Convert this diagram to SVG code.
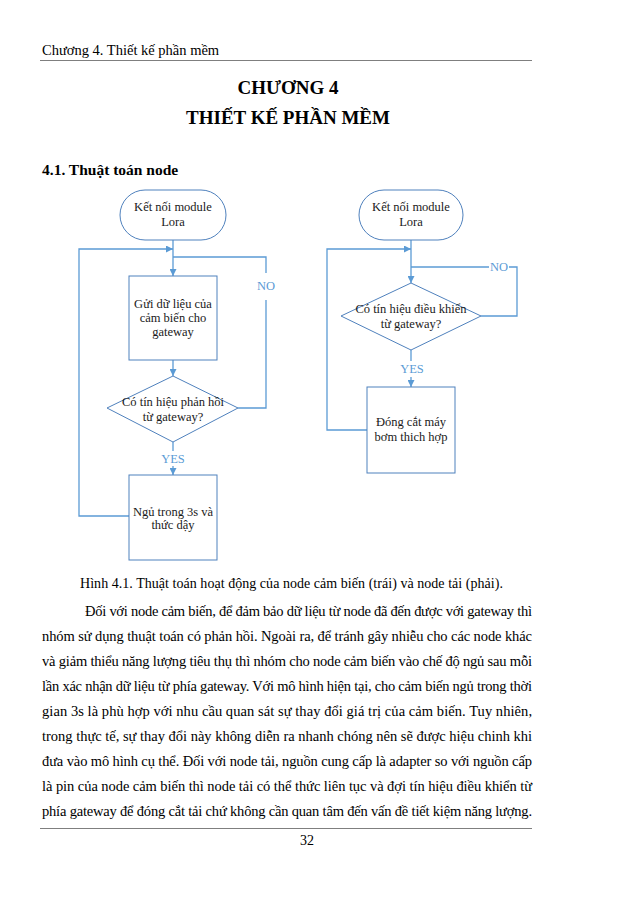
<svg xmlns="http://www.w3.org/2000/svg" width="638" height="902" viewBox="0 0 638 902">
<style>
.t{font-family:"Liberation Serif","Times New Roman",serif;fill:#000}
.n{font-family:"Liberation Serif","Times New Roman",serif;font-size:12.5px;fill:#1a1a1a;text-anchor:middle}
.lb{font-family:"Liberation Serif","Times New Roman",serif;font-size:12.5px;fill:#5B9BD5;text-anchor:middle}
.shape{fill:#fff;stroke:#4F81BD;stroke-width:1}
.c{fill:none;stroke:#5B9BD5;stroke-width:1.3}
.p{font-size:14.5px}
</style>
<defs>
<marker id="ah" viewBox="0 0 10 10" refX="10" refY="5" markerWidth="7" markerHeight="7" markerUnits="userSpaceOnUse" orient="auto">
<path d="M0,0 L10,5 L0,10 z" fill="#5B9BD5"/>
</marker>
</defs>
<rect width="638" height="902" fill="#fff"/>

<text class="t" x="42" y="55" font-size="14.5">Chương 4. Thiết kế phần mềm</text>
<line x1="40" y1="60.5" x2="532" y2="60.5" stroke="#7f7f7f" stroke-width="1"/>
<text class="t" x="288" y="94" font-size="19" font-weight="bold" text-anchor="middle">CHƯƠNG 4</text>
<text class="t" x="288" y="124" font-size="19" font-weight="bold" text-anchor="middle">THIẾT KẾ PHẦN MỀM</text>
<text class="t" x="42" y="175" font-size="15.5" font-weight="bold">4.1. Thuật toán node</text>

<g id="connectors">
<line class="c" x1="173" y1="240" x2="173" y2="276" marker-end="url(#ah)"/>
<polyline class="c" points="129,516 79,516 79,249 173,249" marker-end="url(#ah)"/>
<polyline class="c" points="173,257 266,257 266,273"/>
<polyline class="c" points="266,300 266,408 238,408"/>
<line class="c" x1="173" y1="360" x2="173" y2="376" marker-end="url(#ah)"/>
<line class="c" x1="173" y1="442" x2="173" y2="451"/>
<line class="c" x1="173" y1="466" x2="173" y2="475" marker-end="url(#ah)"/>

<line class="c" x1="411" y1="240" x2="411" y2="283" marker-end="url(#ah)"/>
<polyline class="c" points="367,430 327,430 327,249 411,249" marker-end="url(#ah)"/>
<polyline class="c" points="411,267 489,267"/>
<polyline class="c" points="509,267 517,267 517,316 481,316"/>
<line class="c" x1="411" y1="350" x2="411" y2="361"/>
<line class="c" x1="411" y1="377" x2="411" y2="387" marker-end="url(#ah)"/>
<text class="lb" x="266" y="290">NO</text>
<text class="lb" x="173" y="463">YES</text>
<text class="lb" x="499" y="271">NO</text>
<text class="lb" x="412" y="373">YES</text>
</g>

<g id="l_start">
<rect class="shape" x="120" y="190" width="106" height="50" rx="25"/>
<text class="n" x="173" y="211">Kết nối module</text>
<text class="n" x="173" y="226">Lora</text>
</g>
<g id="l_send">
<rect class="shape" x="129" y="276" width="88" height="84"/>
<text class="n" x="173" y="308">Gửi dữ liệu của</text>
<text class="n" x="173" y="322">cảm biến cho</text>
<text class="n" x="173" y="336">gateway</text>
</g>
<g id="l_check">
<polygon class="shape" points="173,376 238,408 173,442 107,408"/>
<text class="n" x="173" y="406">Có tín hiệu phản hồi</text>
<text class="n" x="173" y="421">từ gateway?</text>
</g>
<g id="l_sleep">
<rect class="shape" x="129" y="475" width="88" height="85"/>
<text class="n" x="173" y="516">Ngủ trong 3s và</text>
<text class="n" x="173" y="529">thức dậy</text>
</g>

<g id="r_start">
<rect class="shape" x="359" y="190" width="104" height="50" rx="25"/>
<text class="n" x="411" y="211">Kết nối module</text>
<text class="n" x="411" y="226">Lora</text>
</g>
<g id="r_check">
<polygon class="shape" points="411,283 481,316 411,350 341,316"/>
<text class="n" x="411" y="313">Có tín hiệu điều khiển</text>
<text class="n" x="411" y="328">từ gateway?</text>
</g>
<g id="r_pump">
<rect class="shape" x="367" y="387" width="88" height="86"/>
<text class="n" x="411" y="426">Đóng cắt máy</text>
<text class="n" x="411" y="441">bơm thich hợp</text>
</g>

<text class="t" x="80" y="588" font-size="14" textLength="423" lengthAdjust="spacing">Hình 4.1. Thuật toán hoạt động của node cảm biến (trái) và node tải (phải).</text>

<g class="t p">
<text x="85" y="616" textLength="447" lengthAdjust="spacing">Đối với node cảm biến, để đảm bảo dữ liệu từ node đã đến được với gateway thì</text>
<text x="42" y="641" textLength="490" lengthAdjust="spacing">nhóm sử dụng thuật toán có phản hồi. Ngoài ra, để tránh gây nhiễu cho các node khác</text>
<text x="42" y="666" textLength="490" lengthAdjust="spacing">và giảm thiểu năng lượng tiêu thụ thì nhóm cho node cảm biến vào chế độ ngủ sau mỗi</text>
<text x="42" y="691" textLength="490" lengthAdjust="spacing">lần xác nhận dữ liệu từ phía gateway. Với mô hình hiện tại, cho cảm biến ngủ trong thời</text>
<text x="42" y="716" textLength="490" lengthAdjust="spacing">gian 3s là phù hợp với nhu cầu quan sát sự thay đổi giá trị của cảm biến. Tuy nhiên,</text>
<text x="42" y="741" textLength="490" lengthAdjust="spacing">trong thực tế, sự thay đổi này không diễn ra nhanh chóng nên sẽ được hiệu chinh khi</text>
<text x="42" y="766" textLength="490" lengthAdjust="spacing">đưa vào mô hình cụ thể. Đối với node tải, nguồn cung cấp là adapter so với nguồn cấp</text>
<text x="42" y="791" textLength="490" lengthAdjust="spacing">là pin của node cảm biến thì node tải có thể thức liên tục và đợi tín hiệu điều khiển từ</text>
<text x="42" y="816" textLength="490" lengthAdjust="spacing">phía gateway để đóng cắt tải chứ không cần quan tâm đến vấn đề tiết kiệm năng lượng.</text>
</g>

<line x1="40" y1="828.5" x2="532" y2="828.5" stroke="#7f7f7f" stroke-width="1"/>
<text class="t" x="307" y="845" font-size="14" text-anchor="middle">32</text>
</svg>
